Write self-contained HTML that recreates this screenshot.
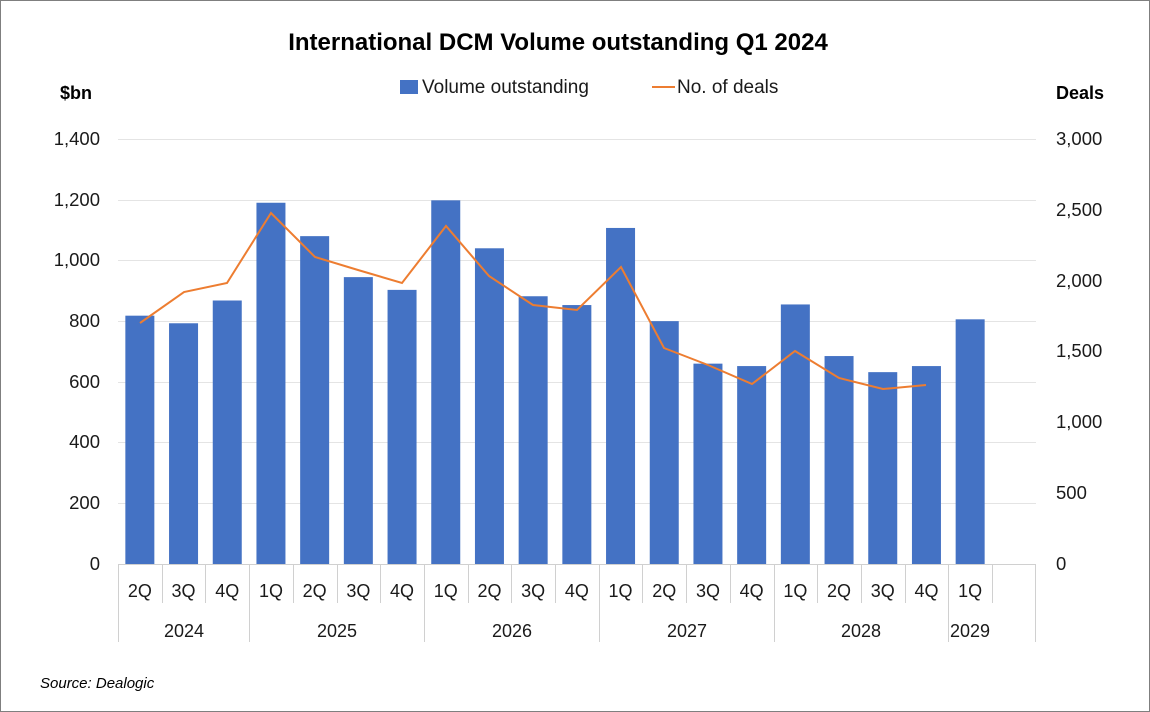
<!DOCTYPE html>
<html><head><style>
body{margin:0;background:#fff;}
svg{display:block;font-family:"Liberation Sans",Calibri,sans-serif;}
</style></head><body>
<svg width="1150" height="712" viewBox="0 0 1150 712">
<rect x="0.5" y="0.5" width="1149" height="711" fill="#fff" stroke="#7f7f7f"/>
<text x="558" y="50" font-size="24" font-weight="bold" text-anchor="middle" fill="#000">International DCM Volume outstanding Q1 2024</text>
<rect x="400" y="80" width="18" height="14" fill="#4472c4"/>
<text x="422" y="93" font-size="19" fill="#1a1a1a">Volume outstanding</text>
<line x1="652" y1="87" x2="675" y2="87" stroke="#ed7d31" stroke-width="2"/>
<text x="677" y="93" font-size="19" fill="#1a1a1a">No. of deals</text>
<text x="60" y="99" font-size="18" font-weight="bold" fill="#000">$bn</text>
<text x="1056" y="99" font-size="18" font-weight="bold" fill="#000">Deals</text>
<g stroke="#e4e4e4" stroke-width="1">
<line x1="118" y1="139.5" x2="1036" y2="139.5"/><line x1="118" y1="200.5" x2="1036" y2="200.5"/>
<line x1="118" y1="260.5" x2="1036" y2="260.5"/><line x1="118" y1="321.5" x2="1036" y2="321.5"/>
<line x1="118" y1="382.5" x2="1036" y2="382.5"/><line x1="118" y1="442.5" x2="1036" y2="442.5"/>
<line x1="118" y1="503.5" x2="1036" y2="503.5"/>
</g>
<g font-size="18.5" fill="#1a1a1a" text-anchor="end">
<text x="100" y="570">0</text><text x="100" y="509">200</text><text x="100" y="448">400</text>
<text x="100" y="388">600</text><text x="100" y="327">800</text><text x="100" y="266">1,000</text>
<text x="100" y="206">1,200</text><text x="100" y="145">1,400</text>
</g>
<g font-size="18.5" fill="#1a1a1a" text-anchor="start">
<text x="1056" y="570">0</text><text x="1056" y="499">500</text><text x="1056" y="428">1,000</text>
<text x="1056" y="357">1,500</text><text x="1056" y="287">2,000</text><text x="1056" y="216">2,500</text>
<text x="1056" y="145">3,000</text>
</g>
<g fill="#4472c4" id="bars"></g>
<polyline fill="none" stroke="#ed7d31" stroke-width="2" points="140,323 184,292 227,283 271,213 315,257 358,270 402,283 446,226 489,276 533,305 577,310 621,267 664,348 708,365 752,384 795,351 839,378 883,389 926,385"/>
<line x1="118" y1="564.5" x2="1036" y2="564.5" stroke="#d0d0d0"/>
<g stroke="#d0d0d0" id="ticks"></g>
<g font-size="18" fill="#1a1a1a" text-anchor="middle" id="cats"></g>
<g font-size="18" fill="#1a1a1a" text-anchor="middle">
<text x="184" y="637">2024</text><text x="337" y="637">2025</text><text x="512" y="637">2026</text>
<text x="687" y="637">2027</text><text x="861" y="637">2028</text><text x="970" y="637">2029</text>
</g>
<g stroke="#d0d0d0">
<line x1="118.5" y1="564" x2="118.5" y2="642"/><line x1="249.5" y1="603" x2="249.5" y2="642"/>
<line x1="424.5" y1="603" x2="424.5" y2="642"/><line x1="599.5" y1="603" x2="599.5" y2="642"/>
<line x1="774.5" y1="603" x2="774.5" y2="642"/><line x1="948.5" y1="603" x2="948.5" y2="642"/>
<line x1="1035.5" y1="564" x2="1035.5" y2="642"/>
</g>
<text x="40" y="688" font-size="15" font-style="italic" fill="#000">Source: Dealogic</text>
<script>
var v=[818,793,868,1190,1080,945,903,1198,1040,882,853,1107,800,660,652,855,685,632,652,806];
var q=["2Q","3Q","4Q","1Q","2Q","3Q","4Q","1Q","2Q","3Q","4Q","1Q","2Q","3Q","4Q","1Q","2Q","3Q","4Q","1Q"];
var ns="http://www.w3.org/2000/svg",b=document.getElementById("bars"),c=document.getElementById("cats"),t=document.getElementById("ticks");
for(var i=0;i<20;i++){var cx=118+43.7*(i+0.5);var h=v[i]/1400*425;
var r=document.createElementNS(ns,"rect");r.setAttribute("x",cx-14.5);r.setAttribute("y",564-h);r.setAttribute("width",29);r.setAttribute("height",h);b.appendChild(r);
var tx=document.createElementNS(ns,"text");tx.setAttribute("x",cx);tx.setAttribute("y",597);tx.textContent=q[i];c.appendChild(tx);
var l=document.createElementNS(ns,"line");var x=Math.round(118+43.7*(i+1))+0.5;l.setAttribute("x1",x);l.setAttribute("x2",x);l.setAttribute("y1",564);l.setAttribute("y2",603);t.appendChild(l);}
</script>
</svg>
</body></html>
